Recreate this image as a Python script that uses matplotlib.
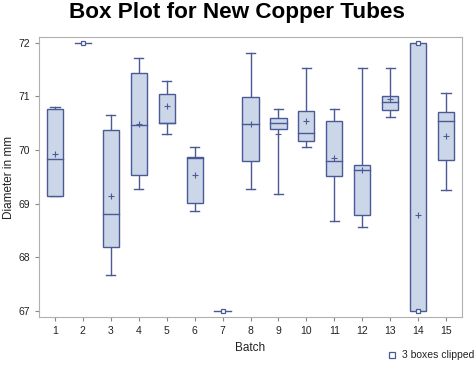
import numpy as np
import matplotlib.pyplot as plt
from matplotlib.patches import Rectangle

plt.rcParams['font.family'] = ['Liberation Sans', 'DejaVu Sans']

# Box statistics (None = box clipped)
batches = list(range(1, 16))
whisker_low = [69.14, None, 67.67, 69.28, 70.29, 68.87, None, 69.27, 69.19, 70.06, 68.67, 68.56, 70.61, None, 69.25]
q1 = [69.14, None, 68.20, 69.53, 70.51, 69.02, None, 69.80, 70.39, 70.16, 69.51, 68.79, 70.75, None, 69.82]
medians = [69.84, None, 68.81, 70.47, 70.51, 69.86, None, 70.49, 70.50, 70.31, 69.79, 69.62, 70.90, None, 70.54]
q3 = [70.77, None, 70.37, 71.43, 71.04, 69.88, None, 70.99, 70.59, 70.73, 70.54, 69.72, 71.01, None, 70.71]
whisker_high = [70.81, None, 70.65, 71.72, 71.29, 70.05, None, 71.80, 70.77, 71.52, 70.77, 71.52, 71.52, None, 71.06]
means = [69.93, None, 69.15, 70.48, 70.83, 69.53, None, 70.48, 70.29, 70.55, 69.85, 69.63, 70.95, 68.79, 70.27]
# clipped boxes: batch -> clip levels
clipped = {2: [72.0], 7: [67.0], 14: [72.0, 67.0]}
ymin_clip, ymax_clip = 67.0, 72.0

edge = '#4a5a94'
fill = '#cbd6e8'
box_w = 0.58
cap_w = 0.33

fig = plt.figure(figsize=(4.74, 3.70), dpi=100)
ax = fig.add_axes([0.0823, 0.1432, 0.8924, 0.7568])

for i, b in enumerate(batches):
    if b in clipped:
        levels = clipped[b]
        if len(levels) == 2:
            ax.add_patch(Rectangle((b - box_w / 2, ymin_clip), box_w, ymax_clip - ymin_clip,
                                   facecolor=fill, edgecolor=edge, lw=1.0, zorder=2))
        else:
            ax.plot([b - box_w / 2, b + box_w / 2], [levels[0], levels[0]], color=edge, lw=1.0, zorder=3)
        for lv in levels:
            ax.plot(b, lv, marker='s', ms=3.5, mfc='white', mec=edge, mew=0.9, zorder=4)
        if means[i] is not None:
            ax.plot(b, means[i], marker='+', ms=4, color=edge, mew=0.8, zorder=4)
        continue
    ax.plot([b, b], [whisker_low[i], q1[i]], color=edge, lw=1.0, zorder=1)
    ax.plot([b, b], [q3[i], whisker_high[i]], color=edge, lw=1.0, zorder=1)
    ax.plot([b - cap_w / 2, b + cap_w / 2], [whisker_low[i]] * 2, color=edge, lw=1.0)
    ax.plot([b - cap_w / 2, b + cap_w / 2], [whisker_high[i]] * 2, color=edge, lw=1.0)
    ax.add_patch(Rectangle((b - box_w / 2, q1[i]), box_w, q3[i] - q1[i],
                           facecolor=fill, edgecolor=edge, lw=1.0, zorder=2))
    ax.plot([b - box_w / 2, b + box_w / 2], [medians[i]] * 2, color=edge, lw=1.0, zorder=3)
    ax.plot(b, means[i], marker='+', ms=4, color=edge, mew=0.8, zorder=4)

ax.set_xlim(0.43, 15.57)
ax.set_ylim(66.89, 72.106)
ax.set_xticks(batches)
ax.set_yticks([67, 68, 69, 70, 71, 72])
ax.tick_params(labelsize=7.5, color='#888888', length=3, labelcolor='#222222')
for s in ax.spines.values():
    s.set_color('#b0b0b0')
ax.set_xlabel('Batch', fontsize=8.5, color='#222222')
ax.set_ylabel('Diameter in mm', fontsize=8.5, color='#222222')
ax.yaxis.set_label_coords(-0.057, 0.5)

fig.suptitle('Box Plot for New Copper Tubes', fontsize=16.2, fontweight='bold', y=0.995)

# clipping note
fig.lines.append(plt.Line2D([0.827], [0.0405], marker='s', ms=4, mfc='white', mec=edge,
                            mew=0.9, transform=fig.transFigure))
fig.text(0.848, 0.0405, '3 boxes clipped', fontsize=7.5, va='center', color='#222222')

fig.savefig('out.png')
